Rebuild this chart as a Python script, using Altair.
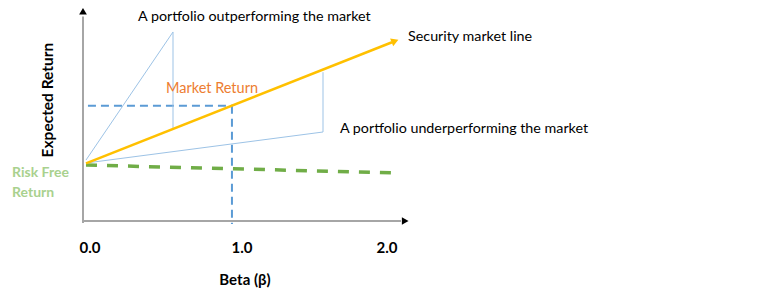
import altair as alt
import pandas as pd

# ---- data (beta, expected return in %) ----
rf_beta = [0.0, 2.08]
rf_ret = [5.83, 5.0]

sml_beta = [0.0, 2.04]
sml_ret = [6.0, 18.62]
sml_tip_beta = [2.06]
sml_tip_ret = [18.75]

mkt_h_beta = [0.013, 0.973]
mkt_h_ret = [12.0, 12.0]
mkt_v_beta = [0.973, 0.973]
mkt_v_ret = [12.0, -0.3]

out_beta = [0.0, 0.58, 0.58]
out_ret = [6.35, 19.69, 9.69]
under_beta = [0.0, 1.58, 1.58]
under_ret = [6.04, 9.27, 15.5]

xaxis_beta = [-0.02, 2.1]
xaxis_ret = [0.0, 0.0]
yaxis_beta = [-0.02, -0.02]
yaxis_ret = [-0.2, 21.3]

tick_vals = [0.027, 1.04, 2.007]
tick_labels = ["0.0", "1.0", "2.0"]

ann_text = ["A portfolio outperforming the market", "Security market line",
            "A portfolio underperforming the market"]
ann_beta = [0.347, 2.147, 1.693]
ann_ret = [21.25, 19.17, 9.58]

XS = alt.Scale(domain=[-86 / 150, (768 - 86) / 150], nice=False, zero=False)
YS = alt.Scale(domain=[(221 - 301) / 9.6, 221 / 9.6], nice=False, zero=False)


def enc(ch, **kw):
    return ch.encode(x=alt.X("b:Q", scale=XS, axis=None),
                     y=alt.Y("r:Q", scale=YS, axis=None), **kw)


def df(b, r, **extra):
    d = pd.DataFrame({"b": b, "r": r})
    for k, v in extra.items():
        d[k] = v
    d["o"] = range(len(d))
    return d


axes = alt.layer(
    enc(alt.Chart(df(xaxis_beta, xaxis_ret)).mark_line(color="#a6a6a6", strokeWidth=2), order="o:Q"),
    enc(alt.Chart(df(yaxis_beta, yaxis_ret)).mark_line(color="#a6a6a6", strokeWidth=2), order="o:Q"),
    enc(alt.Chart(df([2.128], [0.0])).mark_point(shape="triangle-right", filled=True, color="black", size=60, opacity=1)),
    enc(alt.Chart(df([-0.02], [21.85])).mark_point(shape="triangle-up", filled=True, color="black", size=60, opacity=1)),
)

rf_line = enc(alt.Chart(df(rf_beta, rf_ret)).mark_line(color="#70AD47", strokeWidth=3.5, strokeDash=[11, 10]), order="o:Q")
mkt_h = enc(alt.Chart(df(mkt_h_beta, mkt_h_ret)).mark_line(color="#5B9BD5", strokeWidth=2, strokeDash=[8, 5]), order="o:Q")
mkt_v = enc(alt.Chart(df(mkt_v_beta, mkt_v_ret)).mark_line(color="#5B9BD5", strokeWidth=2, strokeDash=[8, 5]), order="o:Q")
out_l = enc(alt.Chart(df(out_beta, out_ret)).mark_line(color="#9DC3E6", strokeWidth=1), order="o:Q")
under_l = enc(alt.Chart(df(under_beta, under_ret)).mark_line(color="#9DC3E6", strokeWidth=1), order="o:Q")
sml = enc(alt.Chart(df(sml_beta, sml_ret)).mark_line(color="#FFC000", strokeWidth=2.5), order="o:Q")
sml_tip = enc(alt.Chart(df(sml_tip_beta, sml_tip_ret)).mark_point(
    shape="triangle-right", filled=True, color="#FFC000", size=70, opacity=1, angle=338.3))

FONT = "Lato"
ann = enc(alt.Chart(df(ann_beta, ann_ret, t=ann_text)).mark_text(
    align="left", baseline="middle", font=FONT, fontSize=14.3, color="black"), text="t:N")
mkt_txt = enc(alt.Chart(df([0.533], [13.75], t=["Market Return"])).mark_text(
    align="left", baseline="middle", font=FONT, fontSize=14.5, color="#ED7D31"), text="t:N")
rf_txt = enc(alt.Chart(df([-0.493, -0.493], [5.0, 2.92], t=["Risk Free", "Return"])).mark_text(
    align="left", baseline="middle", font=FONT, fontSize=14, fontWeight="bold", color="#A9D18E"), text="t:N")
ticks = enc(alt.Chart(df(tick_vals, [-2.81] * 3, t=tick_labels)).mark_text(
    align="center", baseline="middle", font=FONT, fontSize=15, fontWeight="bold", color="black"), text="t:N")
xtitle = enc(alt.Chart(df([1.06], [-6.15], t=["Beta (β)"])).mark_text(
    align="center", baseline="middle", font=FONT, fontSize=15, fontWeight="bold", color="black"), text="t:N")
ytitle = enc(alt.Chart(df([-0.253], [12.6], t=["Expected Return"])).mark_text(
    align="center", baseline="middle", font=FONT, fontSize=15.5, fontWeight="bold", color="black", angle=270), text="t:N")

chart = alt.layer(axes, rf_line, mkt_h, mkt_v, out_l, under_l, sml, sml_tip,
                  ann, mkt_txt, rf_txt, ticks, xtitle, ytitle).properties(
    width=768, height=301, padding=0, autosize=alt.AutoSizeParams(type="none"),
    background="white"
).configure_view(stroke=None)

chart.save("out.html", embed_options={"renderer": "svg", "actions": False})
